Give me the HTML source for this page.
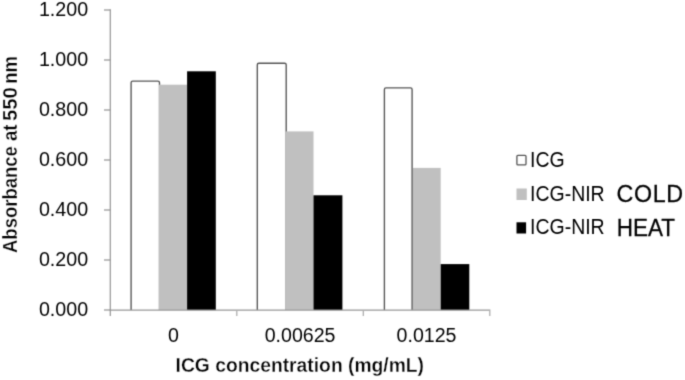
<!DOCTYPE html>
<html>
<head>
<meta charset="utf-8">
<style>
html,body{margin:0;padding:0;background:#fff;}
body{width:685px;height:380px;overflow:hidden;}
svg{display:block;}

text{font-family:"Liberation Sans",Arial,sans-serif;fill:#000;}
</style>
</head>
<body>
<svg width="685" height="380" viewBox="0 0 685 380">
<defs><filter id="soft" x="0" y="0" width="685" height="380" filterUnits="userSpaceOnUse" color-interpolation-filters="sRGB"><feConvolveMatrix order="3" kernelMatrix="0.0225 0.1050 0.0225 0.1050 0.4900 0.1050 0.0225 0.1050 0.0225" divisor="1" edgeMode="duplicate"/></filter></defs>
<g filter="url(#soft)">
<rect x="0" y="0" width="685" height="380" fill="#fff"/>
<g>
<rect x="131.10" y="81.10" width="28.40" height="228.90" fill="#fff"/>
<path d="M131.10 310.00V82.70Q131.10 81.10 132.70 81.10H157.90Q159.50 81.10 159.50 82.70V310.00" fill="none" stroke="#555" stroke-width="1.35"/>
<rect x="159.00" y="84.70" width="28.10" height="225.30" fill="#c0c0c0"/>
<rect x="187.10" y="71.30" width="28.70" height="238.70" fill="#000"/>
<rect x="257.30" y="63.20" width="28.90" height="246.80" fill="#fff"/>
<path d="M257.30 310.00V64.80Q257.30 63.20 258.90 63.20H284.60Q286.20 63.20 286.20 64.80V310.00" fill="none" stroke="#555" stroke-width="1.35"/>
<rect x="285.30" y="131.40" width="28.20" height="178.60" fill="#c0c0c0"/>
<rect x="313.50" y="195.30" width="28.90" height="114.70" fill="#000"/>
<rect x="384.40" y="87.90" width="27.70" height="222.10" fill="#fff"/>
<path d="M384.40 310.00V89.50Q384.40 87.90 386.00 87.90H410.50Q412.10 87.90 412.10 89.50V310.00" fill="none" stroke="#555" stroke-width="1.35"/>
<rect x="413.00" y="167.90" width="27.70" height="142.10" fill="#c0c0c0"/>
<rect x="440.70" y="264.10" width="28.60" height="45.90" fill="#000"/>
</g>
<g stroke="#979797" stroke-width="1.25" fill="none">
<line x1="110.30" y1="9.3" x2="110.30" y2="310.00"/>
<line x1="104" y1="10.00" x2="110.30" y2="10.00"/>
<line x1="104" y1="60.00" x2="110.30" y2="60.00"/>
<line x1="104" y1="110.00" x2="110.30" y2="110.00"/>
<line x1="104" y1="160.00" x2="110.30" y2="160.00"/>
<line x1="104" y1="210.00" x2="110.30" y2="210.00"/>
<line x1="104" y1="260.00" x2="110.30" y2="260.00"/>
<line x1="104" y1="310.00" x2="110.30" y2="310.00"/>
<line x1="109.70" y1="310.20" x2="490.40" y2="310.20"/>
<line x1="110.30" y1="310.00" x2="110.30" y2="316"/>
<line x1="236.80" y1="310.80" x2="236.80" y2="316" stroke="#ababab"/>
<line x1="363.30" y1="310.80" x2="363.30" y2="316" stroke="#ababab"/>
<line x1="489.80" y1="310.80" x2="489.80" y2="316" stroke="#ababab"/>
</g>
<rect x="516.9" y="155.3" width="9.1" height="9.6" rx="1" fill="#fff" stroke="#555" stroke-width="1.3"/>
<rect x="516.5" y="188.5" width="10.3" height="11.5" fill="#c0c0c0"/>
<rect x="516.5" y="222.3" width="9.6" height="11.2" fill="#000"/>
<text transform="matrix(1.0 0 0 1.05 88.2 16.1)" font-size="19.7" text-anchor="end">1.200</text>
<text transform="matrix(1.0 0 0 1.05 88.2 66.1)" font-size="19.7" text-anchor="end">1.000</text>
<text transform="matrix(1.0 0 0 1.05 88.2 116.1)" font-size="19.7" text-anchor="end">0.800</text>
<text transform="matrix(1.0 0 0 1.05 88.2 166.1)" font-size="19.7" text-anchor="end">0.600</text>
<text transform="matrix(1.0 0 0 1.05 88.2 216.1)" font-size="19.7" text-anchor="end">0.400</text>
<text transform="matrix(1.0 0 0 1.05 88.2 266.1)" font-size="19.7" text-anchor="end">0.200</text>
<text transform="matrix(1.0 0 0 1.05 88.2 316.1)" font-size="19.7" text-anchor="end">0.000</text>
<text transform="matrix(1.0 0 0 1.05 173.55 341.5)" font-size="19.6" text-anchor="middle">0</text>
<text transform="matrix(1.0 0 0 1.05 300.05 341.5)" font-size="19.6" text-anchor="middle">0.00625</text>
<text transform="matrix(1.0 0 0 1.05 426.55 341.5)" font-size="19.6" text-anchor="middle">0.0125</text>
<text transform="matrix(1.0 0 0 1.05 299.8 371.9)" font-size="19.3" text-anchor="middle" font-weight="bold" stroke="#fff" stroke-width="0.3">ICG concentration (mg/mL)</text>
<g transform="matrix(0 -1 1.05 0 16.6 253)" font-size="18.5" font-weight="bold" stroke="#fff" stroke-width="0.3"><text x="0" y="0">Absorbance at</text><text transform="matrix(1.1 0 0 1 131.9 0)">550</text><text x="169.3" y="0">nm</text></g>
<text transform="matrix(1.0 0 0 1.1 530 167.3)" font-size="19.5">ICG</text>
<text transform="matrix(1.0 0 0 1.1 530 200.7)" font-size="19.5">ICG-NIR</text>
<text transform="matrix(1.0 0 0 1.1 530 234.4)" font-size="19.5">ICG-NIR</text>
<text transform="matrix(1.02 0 0 1.05 616.6 201.5)" font-size="22.8" letter-spacing="0.6" stroke="#000" stroke-width="0.25">COLD</text>
<text transform="matrix(1.0 0 0 1.09 616.8 235.9)" font-size="22.5" stroke="#000" stroke-width="0.25">HEAT</text>
</g>
</svg>
</body>
</html>
